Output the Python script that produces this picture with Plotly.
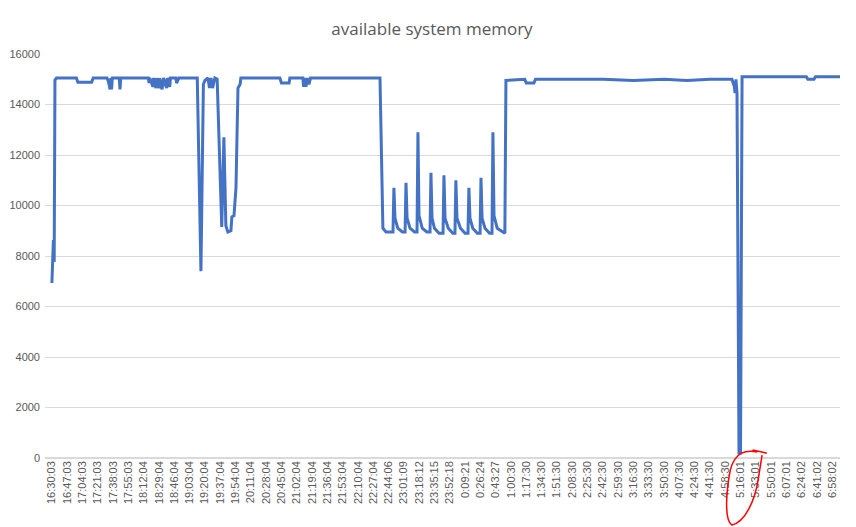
import plotly.graph_objects as go

tick_labels = ["16:30:03","16:47:03","17:04:03","17:21:03","17:38:03","17:55:03","18:12:04","18:29:04","18:46:04","19:03:04",
"19:20:04","19:37:04","19:54:04","20:11:04","20:28:04","20:45:04","21:02:04","21:19:04","21:36:04","21:53:04",
"22:10:04","22:27:04","22:44:06","23:01:09","23:18:12","23:35:15","23:52:18","0:09:21","0:26:24","0:43:27",
"1:00:30","1:17:30","1:34:30","1:51:30","2:08:30","2:25:30","2:42:30","2:59:30","3:16:30","3:33:30",
"3:50:30","4:07:30","4:24:30","4:41:30","4:58:30","5:16:01","5:33:01","5:50:01","6:07:01","6:24:02","6:41:02","6:58:02"]

# x = position in label-index units, y = available memory (MB)
sample_pos = [0,0.05,0.1,0.15,0.2,0.3,1.6,1.7,2.6,2.7,3.6,3.7,3.8,3.85,3.9,3.95,4.05,4.4,4.45,4.5,5.4,
 6.3,6.35,6.4,6.6,6.65,6.8,6.85,7.0,7.05,7.2,7.3,7.5,7.55,7.7,7.75,8.1,8.15,8.3,9.5,9.74,9.9,10.0,10.2,10.3,10.4,10.5,10.65,10.8,
 10.98,11.1,11.24,11.37,11.5,11.7,11.76,11.9,12.03,12.09,12.16,12.3,12.35,
 14.9,15.0,15.5,15.55,16.4,16.45,16.55,16.6,16.7,16.8,16.9,17.0,18.0,20.5,21.4,
 21.44,21.63,21.83,22.29,22.35,22.42,22.6,22.9,23.08,23.14,23.21,23.4,23.7,23.86,23.92,23.99,24.2,24.5,
 24.71,24.77,24.84,25.0,25.3,25.56,25.62,25.69,25.9,26.2,26.34,26.4,26.47,26.7,27.0,27.19,27.25,27.32,27.5,27.8,
 27.98,28.04,28.11,28.3,28.6,28.76,28.82,28.89,29.1,29.6,29.67,
 30.9,31.0,31.5,31.6,36.0,38.0,40.0,41.5,43.0,44.44,44.6,44.64,44.7,44.77,44.9,45.0,45.1,49.3,49.4,49.8,49.9,51.5]
memory_mb = [6930,8240,8630,7760,14970,15050,15050,14880,14880,15050,15050,14900,14600,15050,14600,15050,15050,15050,14600,15050,15050,
 15050,14850,15050,14700,15050,14650,15050,14650,15050,14600,15050,14650,15050,14700,15050,15050,14850,15050,15050,7400,14800,14950,15050,14650,15050,14650,15050,15000,
 11800,9150,12700,9200,8950,9000,9550,9600,10700,12300,14650,14800,15050,
 15050,14850,14850,15050,15050,14700,15050,14700,15050,14800,15050,15050,15050,15050,15050,
 15050,9100,8950,8950,10700,9500,9100,8950,8950,10900,9500,9100,8950,8950,12900,9600,9100,8950,
 8950,11300,9500,9100,8900,8900,11200,9500,9100,8900,8900,11000,9500,9100,8900,8900,10700,9500,9100,8900,
 8900,11100,9500,9100,8900,8900,12900,9600,9100,8900,14950,
 15000,14850,14850,15000,15000,14950,15000,14950,15000,15000,14700,14450,15000,14450,200,200,15100,15100,15000,15000,15100,15100]

fig = go.Figure(go.Scatter(x=sample_pos, y=memory_mb, mode="lines",
                           line=dict(color="#4472C4", width=3), hoverinfo="skip"))

circle = ("M 0.896,0.015 C 0.881,0.020 0.868,0.015 0.862,-0.030 C 0.857,-0.079 0.854,-0.153 0.864,-0.166 "
          "C 0.881,-0.158 0.893,-0.104 0.897,-0.054 L 0.902,0.007 M 0.890,0.020 L 0.908,0.012")
fig.add_shape(type="path", path=circle, xref="paper", yref="paper", line=dict(color="#FF0000", width=1.5))

fig.update_layout(
    width=848, height=519, paper_bgcolor="white", plot_bgcolor="white",
    margin=dict(l=37, r=16, t=46, b=69, autoexpand=False),
    title=dict(text="available system memory", x=0.5, xanchor="center", y=0.96, yanchor="middle",
               font=dict(family="Open Sans, Liberation Sans", size=17, color="#595959")),
    showlegend=False,
    font=dict(family="Liberation Sans, Arial", color="#595959", size=11),
)
fig.update_xaxes(range=[-0.45, 51.5], tickmode="array", tickvals=list(range(len(tick_labels))),
                 ticktext=tick_labels, tickangle=-90, showgrid=False, zeroline=False, automargin=False,
                 showline=False, ticks="", tickfont=dict(size=11))
fig.update_yaxes(range=[0, 16000], dtick=2000, tickformat="d", showgrid=True, gridcolor="#D9D9D9", gridwidth=1,
                 zeroline=True, zerolinecolor="#D9D9D9", showline=False, ticks="", ticklabelstandoff=4,
                 automargin=False, tickfont=dict(size=11))
fig.write_html("out.html")
